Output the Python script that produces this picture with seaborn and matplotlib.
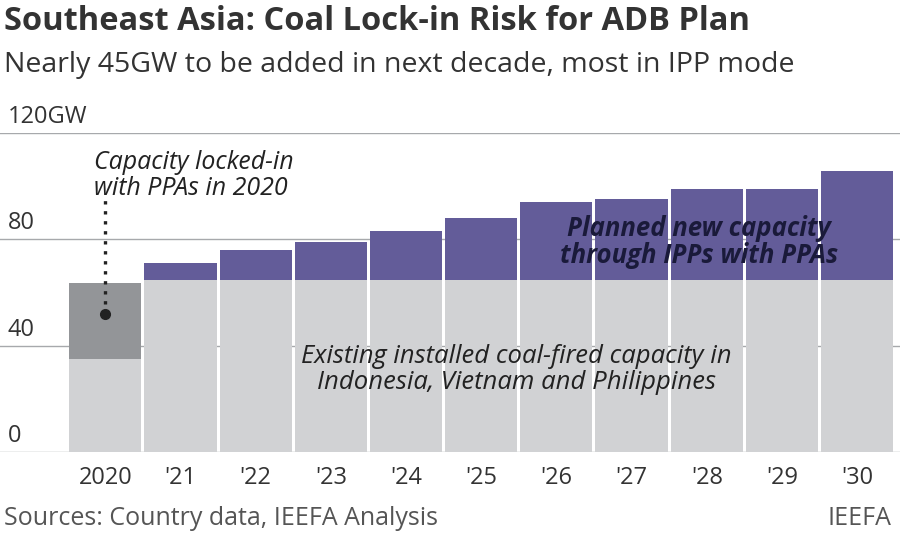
import matplotlib
matplotlib.use("Agg")
import matplotlib.pyplot as plt
import seaborn as sns
import pandas as pd

years = ["2020", "'21", "'22", "'23", "'24", "'25", "'26", "'27", "'28", "'29", "'30"]
existing = [35, 64.5, 64.5, 64.5, 64.5, 64.5, 64.5, 64.5, 64.5, 64.5, 64.5]
totals = [63.5, 71, 76, 79, 83, 88, 94, 95, 99, 99, 105.5]
yticks = [0, 40, 80, 120]

PURPLE = "#635c99"
LIGHT = "#d1d2d4"
DARK = "#939598"
plt.rcParams["font.family"] = "Open Sans"

df = pd.DataFrame({"year": years, "existing": existing, "total": totals})

fig = plt.figure(figsize=(9, 5.4), dpi=100)
ax = fig.add_axes([0, 0.163, 1, 0.591])

for t in yticks:
    ax.axhline(t, color="#a7a9ac", linewidth=1, zorder=0)
    ax.text(-1.3, t + 1.5, f"{t}GW" if t == 120 else str(t), fontsize=17,
            color="#333333", va="bottom", ha="left")

top_colors = [DARK] + [PURPLE] * (len(years) - 1)
sns.barplot(data=df, x="year", y="total", hue="year", palette=top_colors,
            legend=False, width=0.96, saturation=1, ax=ax, zorder=2)
sns.barplot(data=df, x="year", y="existing", color=LIGHT, width=0.96,
            saturation=1, ax=ax, zorder=3)

ax.set_xlim(-1.40, 10.57)
ax.set_ylim(0, 120)
for s in ax.spines.values():
    s.set_visible(False)
ax.set_yticks([])
ax.tick_params(axis="x", length=0, labelsize=17, colors="#333333", pad=10)
ax.set_xlabel("")
ax.set_ylabel("")

# locked-in marker
ax.plot([0, 0], [52, 95], linestyle=(0, (1, 2)), color="#222222", linewidth=2.4, zorder=5)
ax.plot(0, 52, "o", color="#222222", markersize=7, zorder=6)
ax.text(-0.15, 104, "Capacity locked-in\nwith PPAs in 2020", fontsize=18, style="italic",
        ha="left", va="center", linespacing=1.05, color="#222222")
ax.text(7.9, 79, "Planned new capacity\nthrough IPPs with PPAs", fontsize=18.5,
        style="italic", fontweight="bold", ha="center", va="center",
        linespacing=1.0, color="#1a1a3a", zorder=6)
ax.text(5.47, 31, "Existing installed coal-fired capacity in\nIndonesia, Vietnam and Philippines",
        fontsize=18.5, style="italic", ha="center", va="center", linespacing=1.1,
        color="#222222", zorder=6)

fig.text(0.005, 0.99, "Southeast Asia: Coal Lock-in Risk for ADB Plan", fontsize=23.5,
         fontweight="bold", va="top", ha="left", color="#333333")
fig.text(0.005, 0.905, "Nearly 45GW to be added in next decade, most in IPP mode",
         fontsize=20.5, va="top", ha="left", color="#333333")
fig.text(0.005, 0.04, "Sources: Country data, IEEFA Analysis", fontsize=18,
         va="center", ha="left", color="#555555")
fig.text(0.99, 0.04, "IEEFA", fontsize=18, va="center", ha="right", color="#555555")

fig.savefig("out.png", dpi=100)
